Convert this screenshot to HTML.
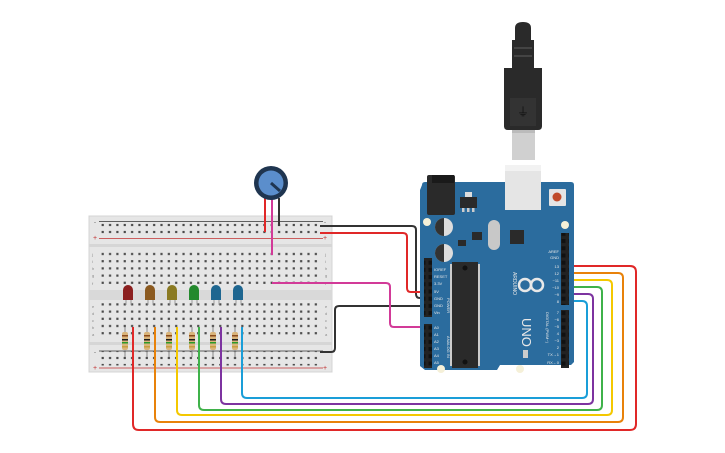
<!DOCTYPE html>
<html><head><meta charset="utf-8"><style>
html,body{margin:0;padding:0;background:#fff;width:725px;height:453px;overflow:hidden}
svg{display:block}
text{font-family:"Liberation Sans",sans-serif}
</style></head><body>
<svg width="725" height="453" viewBox="0 0 725 453" xmlns="http://www.w3.org/2000/svg">
<defs>
<pattern id="dm" x="99" y="250.4" width="7.35" height="7.2" patternUnits="userSpaceOnUse"><rect x="2.6" y="2.5" width="2.2" height="2.2" fill="#4a4a4a"/></pattern>
<pattern id="dr" x="99" y="221.5" width="7.35" height="7" patternUnits="userSpaceOnUse"><rect x="2.6" y="2.4" width="2.2" height="2.2" fill="#4a4a4a"/></pattern>
<pattern id="hp" x="0" y="0" width="7" height="7.2" patternUnits="userSpaceOnUse"><rect width="7" height="7.2" fill="#222"/><rect x="1.5" y="1.5" width="4" height="4" fill="#111"/></pattern>
</defs>

<!-- breadboard -->
<rect x="89" y="216" width="243" height="156" fill="#e6e6e6" stroke="#d4d4d4"/>
<rect x="89" y="244" width="243" height="3" fill="#d6d6d6"/>
<rect x="89" y="290" width="243" height="10" fill="#d9d9d9"/>
<rect x="89" y="342" width="243" height="3" fill="#d6d6d6"/>
<line x1="99" y1="221.5" x2="323" y2="221.5" stroke="#333" stroke-width="0.8"/>
<line x1="99" y1="238.5" x2="323" y2="238.5" stroke="#c03030" stroke-width="0.8"/>
<line x1="99" y1="351" x2="323" y2="351" stroke="#333" stroke-width="0.8"/>
<line x1="99" y1="368" x2="323" y2="368" stroke="#c03030" stroke-width="0.8"/>
<text x="94" y="224" font-size="6" fill="#555">-</text><text x="93" y="240" font-size="7" fill="#c03030">+</text>
<text x="324" y="224" font-size="6" fill="#555">-</text><text x="323" y="240" font-size="7" fill="#c03030">+</text>
<text x="94" y="354" font-size="6" fill="#555">-</text><text x="93" y="370" font-size="7" fill="#c03030">+</text>
<text x="324" y="354" font-size="6" fill="#555">-</text><text x="323" y="370" font-size="7" fill="#c03030">+</text>
<rect x="99" y="221.5" width="221" height="14" fill="url(#dr)"/>
<rect x="99" y="351.5" width="221" height="14" fill="url(#dr)" transform="translate(0,0)"/>
<rect x="99" y="250.4" width="221" height="36" fill="url(#dm)"/>
<rect x="99" y="302.4" width="221" height="36" fill="url(#dm)"/>
<g font-size="4" fill="#888">
<text x="92" y="256">j</text><text x="92" y="263">i</text><text x="92" y="270">h</text><text x="92" y="277">g</text><text x="92" y="285">f</text>
<text x="92" y="308">e</text><text x="92" y="315">d</text><text x="92" y="322">c</text><text x="92" y="329">b</text><text x="92" y="336">a</text>
<text x="325" y="256">j</text><text x="325" y="263">i</text><text x="325" y="270">h</text><text x="325" y="277">g</text><text x="325" y="285">f</text>
<text x="325" y="308">e</text><text x="325" y="315">d</text><text x="325" y="322">c</text><text x="325" y="329">b</text><text x="325" y="336">a</text>
</g>

<!-- bottom wires -->
<g fill="none" stroke-width="2">
<path d="M133 327 V424 Q133 430 139 430 H630 Q636 430 636 424 V272 Q636 266 630 266 H568" stroke="#e02828"/>
<path d="M155 327 V417 Q155 422 160 422 H618 Q623 422 623 417 V278 Q623 273 618 273 H568" stroke="#e8820a"/>
<path d="M177 327 V410 Q177 415 182 415 H607 Q612 415 612 410 V285 Q612 280 607 280 H568" stroke="#f4c800"/>
<path d="M199 327 V405 Q199 410 204 410 H597 Q602 410 602 405 V292 Q602 287 597 287 H568" stroke="#3fb24a"/>
<path d="M221 327 V399 Q221 404 226 404 H588 Q593 404 593 399 V299 Q593 294 588 294 H568" stroke="#7d33a0"/>
<path d="M242 327 V393 Q242 398 247 398 H582 Q587 398 587 393 V306 Q587 301 582 301 H568" stroke="#1a9ed8"/>
</g>

<!-- LEDs -->
<g>
<g stroke="#999" stroke-width="1"><line x1="126" y1="298" x2="126" y2="305"/><line x1="131" y1="298" x2="131" y2="305"/><line x1="148" y1="298" x2="148" y2="305"/><line x1="153" y1="298" x2="153" y2="305"/><line x1="170" y1="298" x2="170" y2="305"/><line x1="175" y1="298" x2="175" y2="305"/><line x1="192" y1="298" x2="192" y2="305"/><line x1="197" y1="298" x2="197" y2="305"/><line x1="214" y1="298" x2="214" y2="305"/><line x1="219" y1="298" x2="219" y2="305"/><line x1="236" y1="298" x2="236" y2="305"/><line x1="241" y1="298" x2="241" y2="305"/></g>
<path d="M123 300 V290 a5 5 0 0 1 10 0 V300 Z" fill="#8b1f1f"/>
<path d="M145 300 V290 a5 5 0 0 1 10 0 V300 Z" fill="#8b5a20"/>
<path d="M167 300 V290 a5 5 0 0 1 10 0 V300 Z" fill="#8a7a22"/>
<path d="M189 300 V290 a5 5 0 0 1 10 0 V300 Z" fill="#23892d"/>
<path d="M211 300 V290 a5 5 0 0 1 10 0 V300 Z" fill="#1e6690"/>
<path d="M233 300 V290 a5 5 0 0 1 10 0 V300 Z" fill="#1e6690"/>
</g>

<!-- resistors -->
<g>
<g stroke="#888" stroke-width="1"><line x1="125" y1="327" x2="125" y2="357"/><line x1="147" y1="327" x2="147" y2="357"/><line x1="169" y1="327" x2="169" y2="357"/><line x1="192" y1="327" x2="192" y2="357"/><line x1="213" y1="327" x2="213" y2="357"/><line x1="235" y1="327" x2="235" y2="357"/></g>
<g id="r1"><rect x="122" y="332" width="6" height="18" rx="2" fill="#d9b47a"/><rect x="122" y="335" width="6" height="1.5" fill="#8b4a1a"/><rect x="122" y="339" width="6" height="1.5" fill="#1a1a1a"/><rect x="122" y="342" width="6" height="1.5" fill="#2a9a2a"/><rect x="122" y="346" width="6" height="1.5" fill="#c8a040"/></g>
<use href="#r1" x="22"/><use href="#r1" x="44"/><use href="#r1" x="67"/><use href="#r1" x="88"/><use href="#r1" x="110"/>
</g>

<!-- other wires -->
<g fill="none" stroke-width="2">
<path d="M320 226 H412 Q416 226 416 230 V294 Q416 298 420 298 H428" stroke="#333"/>
<path d="M320 233 H403 Q407 233 407 237 V288 Q407 292 411 292 H428" stroke="#e02828"/>
<path d="M320 352 H331 Q335 352 335 348 V310 Q335 306 339 306 H428" stroke="#333"/>
<path d="M272 283 H386 Q390 283 390 287 V323 Q390 327 394 327 H428" stroke="#d23a98"/>
<path d="M265 198 V232" stroke="#e02828"/>
<path d="M272 198 V255" stroke="#d23a98"/>
<path d="M279 198 V226" stroke="#333"/>
</g>
<!-- pot -->
<circle cx="271" cy="183" r="17" fill="#1f3550"/>
<circle cx="271" cy="183" r="12.5" fill="#5b8ecc"/>
<line x1="271" y1="183" x2="280" y2="191" stroke="#1f3550" stroke-width="3"/>

<!-- USB cable -->
<rect x="512" y="125" width="23" height="35" fill="#d0d0d0"/>
<rect x="512" y="125" width="23" height="8" fill="#bbb"/>
<path d="M504 68 H542 V126 Q542 130 538 130 H508 Q504 130 504 126 Z" fill="#2a2a2a"/>
<rect x="510" y="98" width="26" height="28" fill="#333"/>
<rect x="512" y="40" width="22" height="28" fill="#2a2a2a"/>
<path d="M515 40 V28 Q515 22 523 22 Q531 22 531 28 V40 Z" fill="#2a2a2a"/>
<rect x="514" y="47" width="18" height="2" fill="#444"/><rect x="514" y="55" width="18" height="2" fill="#444"/>
<text x="523" y="116" font-size="12" fill="#111" text-anchor="middle">⏚</text>

<!-- Arduino -->
<path d="M422 185 Q422 182 425 182 H571 Q574 182 574 185 V362 L571 365 H500 L497 370 H425 L420 366 V190 Z" fill="#2b6c9e"/>
<rect x="505" y="165" width="36" height="45" fill="#e5e5e5"/>
<rect x="505" y="165" width="36" height="6" fill="#f2f2f2"/>
<rect x="427" y="175" width="28" height="40" rx="2" fill="#2a2a2a"/>
<rect x="432" y="175" width="22" height="8" fill="#1a1a1a"/>
<rect x="549" y="189" width="17" height="17" rx="1" fill="#e4e4e4"/>
<circle cx="557" cy="197" r="4.5" fill="#c04a2a"/>
<rect x="460" y="197" width="17" height="11" fill="#2a2a2a"/>
<rect x="465" y="192" width="7" height="5" fill="#ddd"/>
<g fill="#ccc"><rect x="462" y="208" width="2.5" height="4"/><rect x="467" y="208" width="2.5" height="4"/><rect x="472" y="208" width="2.5" height="4"/></g>
<circle cx="444" cy="227" r="9" fill="#ddd"/><path d="M444 218 A9 9 0 0 0 444 236 Z" fill="#333"/>
<circle cx="444" cy="253" r="9" fill="#ddd"/><path d="M444 244 A9 9 0 0 0 444 262 Z" fill="#333"/>
<rect x="488" y="220" width="12" height="30" rx="6" fill="#c8c8c8"/>
<rect x="510" y="230" width="14" height="14" fill="#2a2a2a"/>
<rect x="472" y="232" width="10" height="8" fill="#2a2a2a"/>
<rect x="458" y="240" width="8" height="6" fill="#2a2a2a"/>
<circle cx="427" cy="222" r="4" fill="#f5f0d8"/><circle cx="565" cy="225" r="4" fill="#f5f0d8"/>
<circle cx="441" cy="369" r="4" fill="#f5f0d8"/><circle cx="520" cy="369" r="4" fill="#f5f0d8"/>
<rect x="452" y="262" width="26" height="106" fill="#2a2a2a"/>
<circle cx="465" cy="268" r="2.5" fill="#111"/><circle cx="465" cy="362" r="2.5" fill="#111"/>
<g fill="#ccc"><rect x="450" y="264" width="2" height="102"/><rect x="478" y="264" width="2" height="102"/></g>
<rect x="424" y="258" width="8" height="59" fill="url(#hp)"/>
<rect x="424" y="324" width="8" height="44" fill="url(#hp)"/>
<rect x="561" y="233" width="8" height="72" fill="url(#hp)"/>
<rect x="561" y="310" width="8" height="58" fill="url(#hp)"/>
<g font-size="4" fill="#e8e8e8">
<text x="434" y="271">IOREF</text><text x="434" y="278">RESET</text><text x="434" y="285">3.3V</text><text x="434" y="293">5V</text><text x="434" y="300">GND</text><text x="434" y="307">GND</text><text x="434" y="314">Vin</text>
<text x="434" y="329">A0</text><text x="434" y="336">A1</text><text x="434" y="343">A2</text><text x="434" y="350">A3</text><text x="434" y="357">A4</text><text x="434" y="364">A5</text>
<text x="559" y="253" text-anchor="end">AREF</text><text x="559" y="259" text-anchor="end">GND</text><text x="559" y="268" text-anchor="end">13</text><text x="559" y="275" text-anchor="end">12</text><text x="559" y="282" text-anchor="end">~11</text><text x="559" y="289" text-anchor="end">~10</text><text x="559" y="296" text-anchor="end">~9</text><text x="559" y="303" text-anchor="end">8</text>
<text x="559" y="314" text-anchor="end">7</text><text x="559" y="321" text-anchor="end">~6</text><text x="559" y="328" text-anchor="end">~5</text><text x="559" y="335" text-anchor="end">4</text><text x="559" y="342" text-anchor="end">~3</text><text x="559" y="349" text-anchor="end">2</text><text x="559" y="356" text-anchor="end">TX→1</text><text x="559" y="364" text-anchor="end">RX←0</text>
</g>
<g fill="none" stroke="#e8e8e8" stroke-width="2.5"><circle cx="525" cy="285" r="6"/><circle cx="537" cy="285" r="6"/></g>
<text x="0" y="0" font-size="13" fill="#e8e8e8" transform="translate(522,318) rotate(90)">UNO</text>
<text x="0" y="0" font-size="5" fill="#e8e8e8" transform="translate(513,272) rotate(90)">ARDUINO</text>
<text x="0" y="0" font-size="4" fill="#e8e8e8" transform="translate(546,312) rotate(90)">DIGITAL (PWM~)</text>
<text x="0" y="0" font-size="4" fill="#e8e8e8" transform="translate(447,298) rotate(90)">POWER</text>
<text x="0" y="0" font-size="4" fill="#e8e8e8" transform="translate(447,336) rotate(90)">ANALOG IN</text>
<rect x="523" y="350" width="5" height="8" fill="#ccc"/>
</svg>
</body></html>
